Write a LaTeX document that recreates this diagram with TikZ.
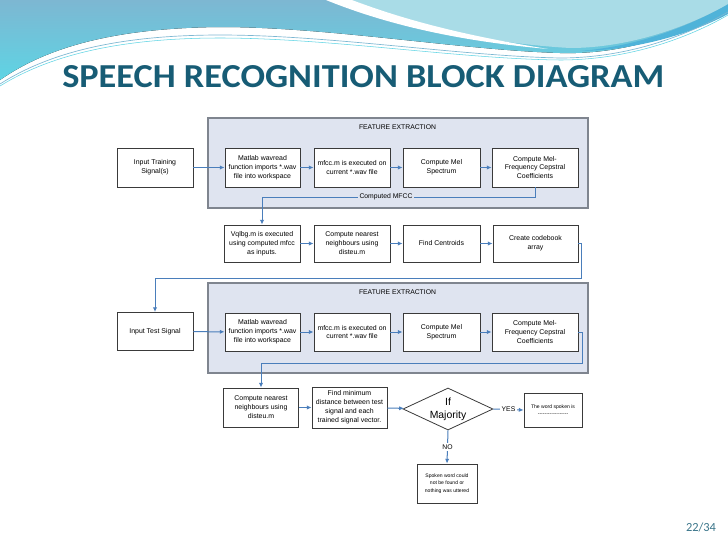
\documentclass[tikz,border=0pt]{standalone}
\usepackage{fontspec}
\setmainfont{Liberation Sans}
\newfontfamily\titlefont{Carlito}
\usetikzlibrary{shapes.geometric,arrows.meta}
\definecolor{boxc}{HTML}{3A3A3A}
\definecolor{panelfill}{HTML}{DFE4F0}
\definecolor{panelline}{HTML}{7F858F}
\definecolor{connc}{HTML}{4A7EBB}
\definecolor{titlec}{HTML}{175C75}
\definecolor{wavea}{HTML}{7DB7D2}
\definecolor{waveb}{HTML}{5ED4E4}
\definecolor{wavec}{HTML}{A9DCE7}
\definecolor{waved}{HTML}{4FB3D9}
\begin{document}
\begin{tikzpicture}[x=0.75pt,y=-0.75pt,
  sz/.style 2 args={minimum width=#1*0.75pt, minimum height=#2*0.75pt},
  box/.style={draw=boxc, fill=white, line width=0.6pt, align=center, inner sep=1pt,
    font=\fontsize{5.2}{6.7}\selectfont},
  smallbox/.style={box, font=\fontsize{3.8}{5.6}\selectfont},
  panel/.style={draw=panelline, fill=panelfill, line width=0.8pt},
  lbl/.style={inner sep=1pt, font=\fontsize{5.1}{6}\selectfont},
  arr/.style={draw=connc, line width=0.75pt, -{Latex[length=3.6pt,width=3.2pt]}},
  dia/.style={draw=boxc, fill=white, line width=0.6pt, diamond, aspect=2.14, inner sep=0pt,
    align=center, font=\fontsize{7.8}{10}\selectfont}
]
\useasboundingbox (0,0) rectangle (728,546);
\fill[white] (0,0) rectangle (728,546);

% decorative header wave
\fill[top color=wavea, bottom color=waveb] (0,0) -- (728,0) -- (728,8)
  .. controls (690,30) and (630,55) .. (560,53)
  .. controls (460,50) and (330,27) .. (220,27)
  .. controls (120,28) and (50,45) .. (0,80) -- cycle;
\fill[waved] (728,4) .. controls (690,26) and (640,46) .. (580,51)
  .. controls (640,50) and (695,32) .. (728,14) -- cycle;
\fill[wavec] (352,0) .. controls (420,30) and (500,44) .. (570,48)
  .. controls (630,48) and (690,26) .. (728,4) -- (728,0) -- cycle;
\fill[white] (326,0) .. controls (395,28) and (470,42) .. (548,49)
  .. controls (480,38) and (415,24) .. (352,0) -- cycle;
\draw[wavea, line width=0.5pt] (0,84) .. controls (50,52) and (120,35) .. (220,35)
  .. controls (330,35) and (460,56) .. (560,58)
  .. controls (630,58) and (690,34) .. (728,12);
\draw[waveb, line width=0.4pt] (0,86) .. controls (50,55) and (120,38) .. (220,38)
  .. controls (330,38) and (460,59) .. (560,60)
  .. controls (630,60) and (690,37) .. (728,15);

% title and page number
\node[anchor=base west, inner sep=0pt, text=titlec] (title) at (62,87)
  {\resizebox{451.5pt}{16.5pt}{\titlefont\bfseries SPEECH RECOGNITION BLOCK DIAGRAM}};
\node[text=titlec!85, inner sep=0pt, font=\titlefont\fontsize{9.3}{10}\selectfont] (pg) at (701,527) {22/34};

% panels
\node[panel, sz={380}{90}] (p1) at (398,163) {};
\node[lbl] (p1lbl) at (397.5,127) {FEATURE EXTRACTION};
\node[panel, sz={380}{90}] (p2) at (398,328) {};
\node[lbl] (p2lbl) at (397.5,292) {FEATURE EXTRACTION};

% row 1
\node[box, sz={76}{39}] (in1) at (155,167.5) {Input Training\\Signal(s)};
\node[box, sz={75}{39}] (m1) at (262.5,167.5) {Matlab wavread\\function imports *.wav\\file into workspace};
\node[box, sz={76}{39}] (f1) at (352,167.5) {mfcc.m is executed on\\current *.wav file};
\node[box, sz={77}{39}] (s1) at (441.5,167.5) {Compute Mel\\Spectrum};
\node[box, sz={86}{39}] (c1) at (535,167.5) {Compute Mel-\\Frequency Cepstral\\Coefficients};

% row 2
\node[box, sz={76}{37}] (v) at (262,243.5) {Vqlbg.m is executed\\using computed mfcc\\as inputs.};
\node[box, sz={76}{37}] (n) at (352,243.5) {Compute nearest\\neighbours using\\disteu.m};
\node[box, sz={77}{37}] (cen) at (441.5,243.5) {Find Centroids};
\node[box, sz={85}{37}] (cb) at (535.5,243.5) {Create codebook\\array};

% row 3
\node[box, sz={76}{38}] (in2) at (155,331.5) {Input Test Signal};
\node[box, sz={75}{38}] (m2) at (262.5,332) {Matlab wavread\\function imports *.wav\\file into workspace};
\node[box, sz={76}{38}] (f2) at (352,332) {mfcc.m is executed on\\current *.wav file};
\node[box, sz={77}{38}] (s2) at (441.5,332) {Compute Mel\\Spectrum};
\node[box, sz={86}{38}] (c2) at (535,332) {Compute Mel-\\Frequency Cepstral\\Coefficients};

% row 4
\node[box, sz={75}{39}] (n2) at (261,407.5) {Compute nearest\\neighbours using\\disteu.m};
\node[box, sz={75}{41}] (fm) at (349.5,407.5) {Find minimum\\distance between test\\signal and each\\trained signal vector.};
\node[dia, minimum width=67.5pt, minimum height=31.5pt] (d) at (448,409) {If\\Majority};
\node[smallbox, sz={58}{34}] (ws) at (553,410) {The word spoken is\\{-}{-}{-}{-}{-}{-}{-}{-}{-}{-}{-}{-}{-}{-}{-}{-}{-}{-}};
\node[smallbox, sz={60}{39}] (sp) at (447,483.5) {Spoken word could\\not be found or\\nothing was uttered};

% connectors
\draw[arr] (in1) -- (m1);
\draw[arr] (m1) -- (f1);
\draw[arr] (f1) -- (s1);
\draw[arr] (s1) -- (c1);

\coordinate (k0) at (400,197);
\draw[arr] (c1.south) -- (c1.south |- k0) -- (v.north |- k0) -- (v.north);
\node[lbl, fill=panelfill] (mfcclbl) at (386,197) {Computed MFCC};

\draw[arr] (v) -- (n);
\draw[arr] (n) -- (cen);
\draw[arr] (cen) -- (cb);

\coordinate (k1) at (581,278);
\draw[arr] (cb.east) -| (k1) -| (in2.north);

\draw[arr] (in2) -- (m2);
\draw[arr] (m2) -- (f2);
\draw[arr] (f2) -- (s2);
\draw[arr] (s2) -- (c2);

\coordinate (k2) at (582,363);
\draw[arr] (c2.east) -| (k2) -| (n2.north);

\draw[arr] (n2) -- (fm);
\draw[arr] (fm) -- (d);
\draw[arr] (d.east) -- node[lbl, fill=white] (yes) {YES} (ws.west);
\draw[arr] (d.south) -- node[lbl, fill=white] (no) {NO} (sp.north);
\end{tikzpicture}
\end{document}
